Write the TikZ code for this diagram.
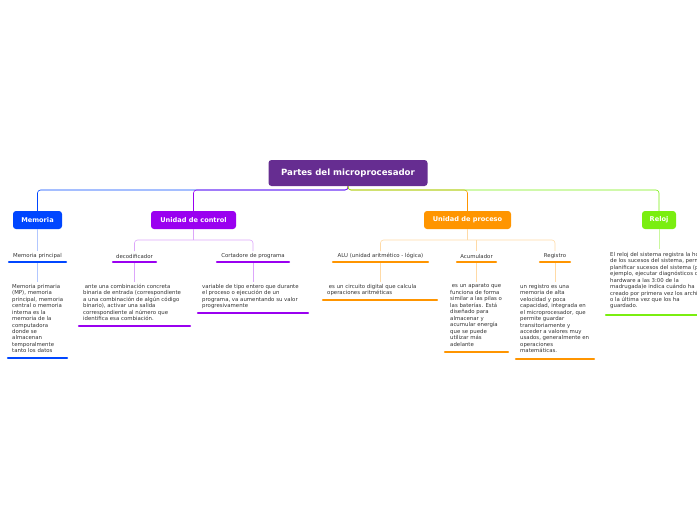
\documentclass[tikz,border=0pt]{standalone}
\usepackage{fontspec}
\setmainfont{DejaVu Sans}
\begin{document}
\begin{tikzpicture}[x=1pt,y=-1pt,
  every node/.style={font=\fontsize{5.4}{6.45}\selectfont},
  box/.style={rounded corners=3pt,minimum height=18pt,text=white,font=\fontsize{6.6}{7}\selectfont\bfseries,inner xsep=3pt},
  lbl/.style={anchor=center,inner sep=0pt,text=black!80},
  txt/.style={anchor=north west,inner sep=0pt,align=left,text=black!80},
  ul/.style={line width=2.4pt,line cap=round},
  con/.style={line width=0.6pt,rounded corners=3pt}]
\definecolor{cRoot}{HTML}{662D91}
\definecolor{cBlue}{HTML}{0046FF}
\definecolor{cPur}{HTML}{9A00F0}
\definecolor{cOra}{HTML}{FF9500}
\definecolor{cGrn}{HTML}{7AEE10}
\useasboundingbox (0,0) rectangle (697,520);
\clip (0,0) rectangle (697,520);
% boxes
\node[box,fill=cRoot,minimum width=159pt,minimum height=26pt,font=\fontsize{8.6}{9}\selectfont\bfseries] (root) at (348,173) {Partes del microprocesador};
\node[box,fill=cBlue,minimum width=49pt] (mem) at (37.5,220) {Memoria};
\node[box,fill=cPur,minimum width=85pt] (uc) at (193.5,220) {Unidad de control};
\node[box,fill=cOra,minimum width=87pt] (up) at (467.5,220) {Unidad de proceso};
\node[box,fill=cGrn,minimum width=34pt] (rel) at (659,220) {Reloj};
% main connectors
\coordinate (r0) at (348,186);
\draw[con,cBlue] (r0) |- (37.5,190) -- (mem.north);
\draw[con,cPur] (r0) |- (193.5,190) -- (uc.north);
\draw[con,cOra] (r0) |- (467.5,190) -- (up.north);
\draw[con,cGrn] (r0) |- (659,190) -- (rel.north);
% level 2 labels
\node[lbl] (mp) at (37.5,256) {Memoria principal};
\node[lbl] (dec) at (134.5,256) {decodificador};
\node[lbl] (cor) at (253,256) {Cortadore de programa};
\node[lbl] (alu) at (380.5,256) {ALU (unidad aritmético - lógica)};
\node[lbl] (acu) at (476.5,256) {Acumulador};
\node[lbl] (reg) at (555,256) {Registro};
% underlines
\draw[ul,cBlue] (9,262) -- (66,262);
\draw[ul,cPur] (113,262) -- (156,262);
\draw[ul,cPur] (217,262) -- (289,262);
\draw[ul,cOra] (333,262) -- (428,262);
\draw[ul,cOra] (457,262) -- (496,262);
\draw[ul,cOra] (540,262) -- (570,262);
% sub connectors
\draw[con,cBlue!30] (mem.south) -- (37.5,251);
\draw[con,cPur!35] (uc.south) -- (193.5,240);
\draw[con,cPur!35] (134.5,251) |- (193.5,240) -| (253,251);
\draw[con,cOra!35] (up.south) -- (467.5,240);
\draw[con,cOra!35] (380.5,251) |- (467.5,240) -| (555,251);
\draw[con,cOra!35] (476.5,251) -- (476.5,240);
\draw[con,cGrn!40] (rel.south) -- (659,249);
% level 3 connectors
\draw[con,cBlue!30] (37.5,263) -- (37.5,282);
\draw[con,cPur!35] (134.5,263) -- (134.5,282);
\draw[con,cPur!35] (253,263) -- (253,282);
\draw[con,cOra!35] (380.5,263) -- (380.5,282);
\draw[con,cOra!35] (476.5,263) -- (476.5,282);
\draw[con,cOra!35] (555,263) -- (555,282);
% texts
\node[txt] (t1) at (12,284) {Memoria primaria\\(MP), memoria\\principal, memoria\\central o memoria\\interna es la\\memoria de la\\computadora\\donde se\\almacenan\\temporalmente\\tanto los datos};
\draw[ul,cBlue] (8,358) -- (67,358);
\node[txt] (t2) at (83,284) {\ ante una combinación concreta\\binaria de entrada (correspondiente\\a una combinación de algún código\\binario), activar una salida\\correspondiente al número que\\identifica esa combiación.};
\draw[ul,cPur] (79,326) -- (190,326);
\node[txt] (t3) at (202,284) {variable de tipo entero que durante\\el proceso o ejecución de un\\programa, va aumentando su valor\\progresivamente};
\draw[ul,cPur] (198,313) -- (308,313);
\node[txt] (t4) at (327,284) {\ es un circuito digital que calcula\\operaciones aritméticas};
\draw[ul,cOra] (323,300) -- (437,300);
\node[txt] (t5) at (450,284) {\ es un aparato que\\funciona de forma\\similar a las pilas o\\las baterías. Está\\diseñado para\\almacenar y\\acumular energía\\que se puede\\utilizar más\\adelante};
\draw[ul,cOra] (445,352) -- (508,352);
\node[txt] (t6) at (520,284) {un registro es una\\memoria de alta\\velocidad y poca\\capacidad, integrada en\\el microprocesador, que\\permite guardar\\transitoriamente y\\acceder a valores muy\\usados, generalmente en\\operaciones\\matemáticas.};
\draw[ul,cOra] (516,359) -- (594,359);
\node[txt] (t7) at (610,252) {El reloj del sistema registra la hora\\de los sucesos del sistema, permite\\planificar sucesos del sistema (por\\ejemplo, ejecutar diagnósticos de\\hardware a las 3:00 de la\\madrugada)e indica cuándo ha\\creado por primera vez los archivos\\o la última vez que los ha\\guardado.};
\draw[ul,cGrn] (606,315) -- (700,315);
\end{tikzpicture}
\end{document}
